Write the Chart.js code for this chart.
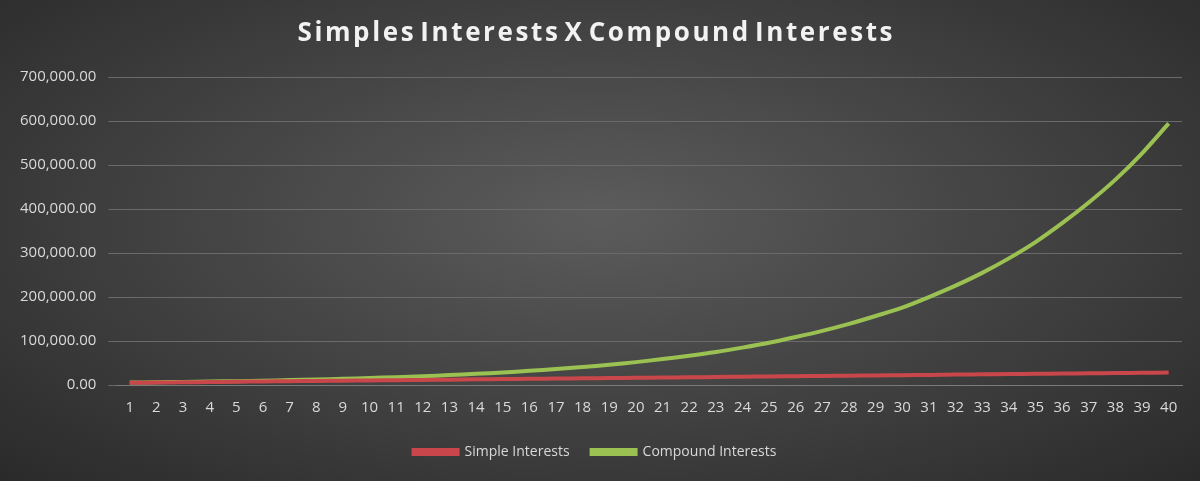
<!DOCTYPE html>
<html>
<head>
<meta charset="utf-8">
<script src="https://cdn.jsdelivr.net/npm/chart.js@4"></script>
<style>
  html,body{margin:0;padding:0;background:#3a3a3a}
  #wrap{width:1200px;height:481px;background:radial-gradient(ellipse at 50% 45%,#5c5c5c 0%,#454545 45%,#2a2a2a 100%)}
</style>
</head>
<body>
<div id="wrap"><canvas id="cv" width="1200" height="481"></canvas></div>
<script>
// periods 1..40
const periods = Array.from({length:40},(_,i)=>String(i+1));
const simpleInterests = [5000,5600,6200,6800,7400,8000,8600,9200,9800,10400,11000,11600,12200,12800,13400,14000,14600,15200,15800,16400,17000,17600,18200,18800,19400,20000,20600,21200,21800,22400,23000,23600,24200,24800,25400,26000,26600,27200,27800,28400];
const compoundInterests = [5500,6200,7000,7800,8800,9900,11100,12500,14000,15800,17800,20000,22500,25400,28600,32200,36200,40800,46000,52000,59000,66500,75000,85000,96000,109000,123000,139000,157000,176000,200000,226000,255000,288000,325000,368000,415000,467000,527000,595000];
const yTicks = [0,100000,200000,300000,400000,500000,600000,700000];

const fmt = v => v.toLocaleString('en-US',{minimumFractionDigits:2,maximumFractionDigits:2});

new Chart(document.getElementById('cv'),{
  type:'line',
  data:{ labels:periods, datasets:[
    {label:'Simple Interests',data:simpleInterests,borderColor:'#c9474a',backgroundColor:'#c9474a',borderWidth:4,pointRadius:0,tension:0.3},
    {label:'Compound Interests',data:compoundInterests,borderColor:'#9bc152',backgroundColor:'#9bc152',borderWidth:4,pointRadius:0,tension:0.3}
  ]},
  options:{
    responsive:false, animation:false,
    layout:{padding:{left:8,right:18,top:10,bottom:12}},
    plugins:{
      title:{display:true,text:'S i m p l e s  I n t e r e s t s  X  C o m p o u n d  I n t e r e s t s'.replace(/(\S) (?=\S)/g,'$1\u200A').replace(/  /g,' '),color:'#f2f2f2',font:{family:'Open Sans',size:26,weight:'bold'},padding:{top:8,bottom:28}},
      legend:{position:'bottom',labels:{color:'#d9d9d9',font:{family:'Open Sans',size:14},boxWidth:44,boxHeight:4,padding:22}}
    },
    scales:{
      x:{offset:true,grid:{display:false},border:{color:'#7a7a7a'},ticks:{color:'#d9d9d9',font:{family:'Open Sans',size:15},autoSkip:false,maxRotation:0,padding:6}},
      y:{min:0,max:700000,afterBuildTicks:ax=>{ax.ticks=yTicks.map(v=>({value:v}));},
         grid:{color:'#6a6a6a'},border:{display:false},
         ticks:{color:'#d9d9d9',font:{family:'Open Sans',size:15},callback:v=>fmt(v),padding:12}}
    }
  }
});
</script>
</body>
</html>
